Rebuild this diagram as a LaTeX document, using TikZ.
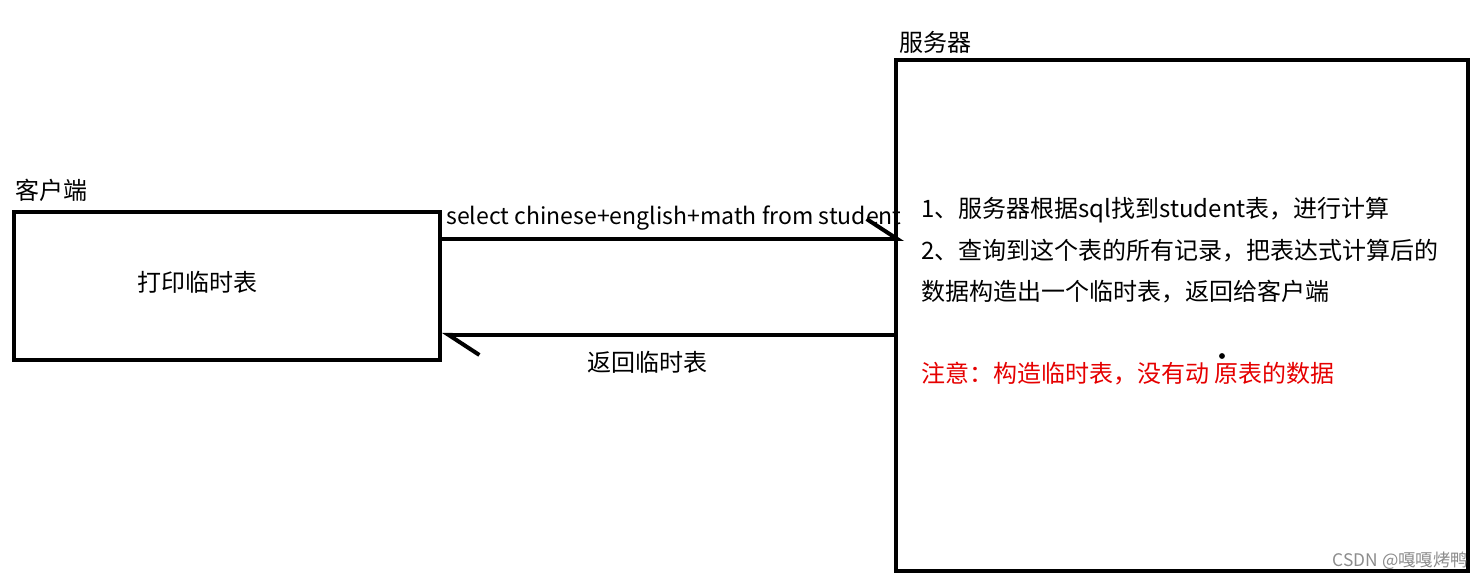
\documentclass[tikz,border=0pt]{standalone}
\usepackage{fontspec}
\setmainfont{Noto Sans CJK SC}
\usepackage{tikz}
\usetikzlibrary{arrows.meta}

\begin{document}
\begin{tikzpicture}[x=0.75pt,y=0.75pt,yscale=-1,xscale=1,
  box/.style={draw, line width=3pt, inner sep=0pt},
  conn/.style={line width=3pt, -{Straight Barb[left, length=23pt, width=30pt]}},
  lbl/.style={inner sep=0pt, font=\fontsize{18}{21}\selectfont}]
\path[use as bounding box] (0,0) rectangle (1484,580);

%Shape: Rectangle [client]
\node[box, minimum width=319.5pt, minimum height=111pt] (client) at (227,286) {};
%Shape: Rectangle [server]
\node[box, minimum width=429pt, minimum height=383.25pt] (server) at (1182,315.5) {};

\coordinate (upper) at (0,239);
\coordinate (lower) at (0,335);
%Straight Lines [query]
\draw[conn] (client.east |- upper) -- ([xshift=7.5pt]server.west |- upper);
%Straight Lines [result]
\draw[conn] (server.west |- lower) -- (client.east |- lower);

% Text Node
\node[lbl, anchor=west] (clientname) at (15,190) {客户端};
% Text Node
\node[lbl, anchor=west] (servername) at (899,42) {服务器};
% Text Node
\node[lbl] (print) at (197,282) {打印临时表};
% Text Node
\node[lbl] (back) at (647,362) {返回临时表};
% Text Node
\node[lbl, anchor=west, font=\fontsize{17.3}{20}\selectfont] (sql) at (446,218) {select chinese+english+math from student};
% Text Node
\node[lbl, anchor=west] (step1) at (921,210) {1、服务器根据sql找到student表，进行计算};
\node[lbl, anchor=west] (step2) at (921,251) {2、查询到这个表的所有记录，把表达式计算后的};
\node[lbl, anchor=west] (step3) at (921,292) {数据构造出一个临时表，返回给客户端};
\node[lbl, anchor=west, text=red!90!black] (note) at (921,374) {注意：构造临时表，没有动 原表的数据};

%Shape: Dot
\fill (1222,356) circle[radius=2.2pt];

% Text Node
\node[inner sep=0pt, anchor=east, text=black!45, font=\fontsize{13}{15}\selectfont] (mark) at (1468,561) {CSDN @嘎嘎烤鸭};

\end{tikzpicture}
\end{document}
